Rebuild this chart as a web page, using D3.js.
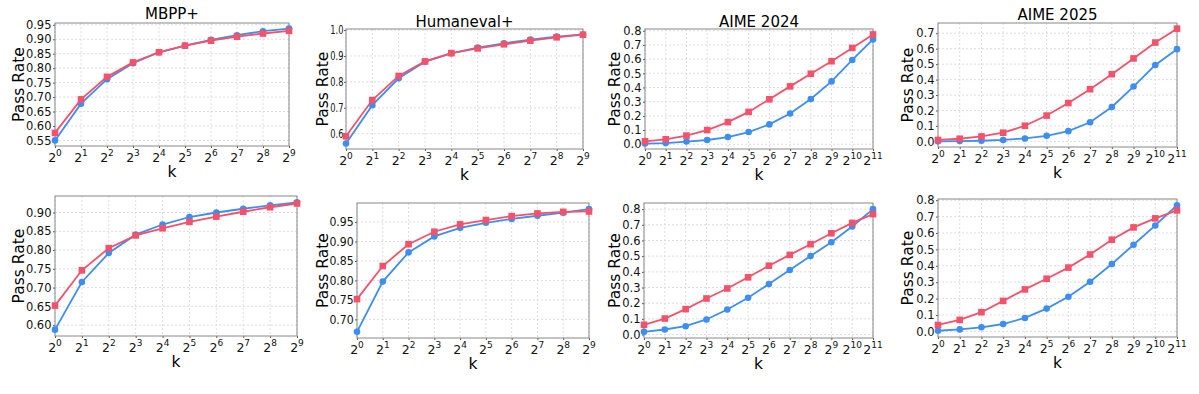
<!DOCTYPE html>
<html>
  <head>
    <style>
    body {
      font-family: "DejaVu Sans", sans-serif;
      margin: 0;
      background: #fff;
    }
    </style>
  </head>
  <body>
    <script src="https://d3js.org/d3.v7.min.js"></script>
    <script>
    var width = 1199, height = 394;

    // k = 2^e
    var expCode = [0, 1, 2, 3, 4, 5, 6, 7, 8, 9];
    var expMath = [0, 1, 2, 3, 4, 5, 6, 7, 8, 9, 10, 11];

    var titles = ["MBPP+", "Humaneval+", "AIME 2024", "AIME 2025"];

    // top row
    var mbppBlueTop  = [0.550, 0.677, 0.762, 0.817, 0.855, 0.878, 0.898, 0.914, 0.928, 0.937];
    var mbppRedTop   = [0.576, 0.692, 0.770, 0.820, 0.855, 0.878, 0.895, 0.909, 0.920, 0.929];
    var humanBlueTop = [0.562, 0.710, 0.814, 0.878, 0.910, 0.932, 0.949, 0.963, 0.975, 0.983];
    var humanRedTop  = [0.590, 0.730, 0.823, 0.879, 0.911, 0.929, 0.945, 0.959, 0.972, 0.982];
    var aime24BlueTop = [0.005, 0.008, 0.019, 0.030, 0.051, 0.086, 0.140, 0.217, 0.319, 0.443, 0.594, 0.739];
    var aime24RedTop  = [0.021, 0.035, 0.061, 0.100, 0.156, 0.228, 0.317, 0.408, 0.497, 0.585, 0.679, 0.774];
    var aime25BlueTop = [0.000, 0.002, 0.004, 0.009, 0.019, 0.036, 0.066, 0.124, 0.223, 0.355, 0.495, 0.597];
    var aime25RedTop  = [0.009, 0.017, 0.032, 0.056, 0.101, 0.167, 0.248, 0.338, 0.435, 0.537, 0.640, 0.730];

    // bottom row
    var mbppBlueBot  = [0.588, 0.715, 0.792, 0.841, 0.868, 0.888, 0.900, 0.910, 0.919, 0.927];
    var mbppRedBot   = [0.652, 0.746, 0.805, 0.839, 0.858, 0.875, 0.889, 0.902, 0.914, 0.924];
    var humanBlueBot = [0.668, 0.797, 0.872, 0.913, 0.935, 0.948, 0.958, 0.966, 0.974, 0.983];
    var humanRedBot  = [0.752, 0.837, 0.893, 0.925, 0.944, 0.955, 0.965, 0.972, 0.976, 0.977];
    var aime24BlueBot = [0.017, 0.032, 0.053, 0.096, 0.160, 0.235, 0.322, 0.412, 0.501, 0.589, 0.689, 0.800];
    var aime24RedBot  = [0.062, 0.102, 0.162, 0.230, 0.294, 0.365, 0.439, 0.508, 0.576, 0.646, 0.712, 0.768];
    var aime25BlueBot = [0.004, 0.012, 0.025, 0.045, 0.082, 0.139, 0.211, 0.303, 0.411, 0.528, 0.646, 0.769];
    var aime25RedBot  = [0.039, 0.070, 0.117, 0.186, 0.256, 0.321, 0.389, 0.469, 0.559, 0.634, 0.689, 0.738];

    // y tick labels per panel
    var ticksMbppTop  = ["0.55", "0.60", "0.65", "0.70", "0.75", "0.80", "0.85", "0.90", "0.95"];
    var ticksHumanTop = ["0.6", "0.7", "0.8", "0.9", "1.0"];
    var ticksAime24Top = ["0.0", "0.1", "0.2", "0.3", "0.4", "0.5", "0.6", "0.7", "0.8"];
    var ticksAime25Top = ["0.0", "0.1", "0.2", "0.3", "0.4", "0.5", "0.6", "0.7"];
    var ticksMbppBot  = ["0.60", "0.65", "0.70", "0.75", "0.80", "0.85", "0.90"];
    var ticksHumanBot = ["0.70", "0.75", "0.80", "0.85", "0.90", "0.95"];
    var ticksAime24Bot = ["0.0", "0.1", "0.2", "0.3", "0.4", "0.5", "0.6", "0.7", "0.8"];
    var ticksAime25Bot = ["0.0", "0.1", "0.2", "0.3", "0.4", "0.5", "0.6", "0.7", "0.8"];

    var blue = "#3d8ef2", red = "#f4516a";

    // sq = horizontal squeeze of the y tick labels (that panel looks narrower in the original)
    var panels = [
      {title: titles[0], exps: expCode, blue: mbppBlueTop,   red: mbppRedTop,   ticks: ticksMbppTop,   box: [55, 289, 23, 146],  ylab: 19,  ttl: 19, sq: 1},
      {title: titles[1], exps: expCode, blue: humanBlueTop,  red: humanRedTop,  ticks: ticksHumanTop,  box: [346, 583, 29, 149], ylab: 323, ttl: 27, sq: 0.72},
      {title: titles[2], exps: expMath, blue: aime24BlueTop, red: aime24RedTop, ticks: ticksAime24Top, box: [645, 873, 29, 149], ylab: 615, ttl: 27, sq: 1},
      {title: titles[3], exps: expMath, blue: aime25BlueTop, red: aime25RedTop, ticks: ticksAime25Top, box: [938, 1177, 23, 147], ylab: 908, ttl: 20, sq: 1},
      {title: null, exps: expCode, blue: mbppBlueBot,   red: mbppRedBot,   ticks: ticksMbppBot,   box: [55, 297, 196, 336],  ylab: 19,  sq: 1},
      {title: null, exps: expCode, blue: humanBlueBot,  red: humanRedBot,  ticks: ticksHumanBot,  box: [357, 589, 203, 338], ylab: 323, sq: 0.95},
      {title: null, exps: expMath, blue: aime24BlueBot, red: aime24RedBot, ticks: ticksAime24Bot, box: [644, 873, 203, 338], ylab: 615, sq: 1},
      {title: null, exps: expMath, blue: aime25BlueBot, red: aime25RedBot, ticks: ticksAime25Bot, box: [938, 1177, 199, 337], ylab: 908, sq: 1}
    ];

    var svg = d3.select("body").append("svg")
        .attr("width", width)
        .attr("height", height)
        .style("font-family", "'DejaVu Sans', sans-serif");

    panels.forEach(drawPanel);

    function drawPanel(p){
      var l = p.box[0], r = p.box[1], t = p.box[2], b = p.box[3];
      var all = p.blue.concat(p.red);
      var lo = d3.min(all), hi = d3.max(all), m = (hi - lo) * 0.05;

      var x = d3.scaleLinear()
          .domain([p.exps[0], p.exps[p.exps.length - 1]])
          .range([l, r]);
      var y = d3.scaleLinear()
          .domain([lo - m, hi + m])
          .range([b, t]);

      var g = svg.append("g");
      var tickVals = p.ticks.map(Number);

      // grid
      g.append("g").selectAll("line")
          .data(p.exps)
        .enter().append("line")
          .attr("x1", function(d){ return x(d); })
          .attr("x2", function(d){ return x(d); })
          .attr("y1", t).attr("y2", b)
          .attr("stroke", "#d4d4d4")
          .attr("stroke-width", 0.8)
          .attr("stroke-dasharray", "2,2");
      g.append("g").selectAll("line")
          .data(tickVals)
        .enter().append("line")
          .attr("y1", function(d){ return y(d); })
          .attr("y2", function(d){ return y(d); })
          .attr("x1", l).attr("x2", r)
          .attr("stroke", "#d4d4d4")
          .attr("stroke-width", 0.8)
          .attr("stroke-dasharray", "2,2");

      // y axis
      var yAxis = d3.axisLeft(y)
          .tickValues(tickVals)
          .tickSize(2)
          .tickPadding(1.5)
          .tickFormat(function(d, i){ return p.ticks[i]; });
      var ya = g.append("g")
          .attr("transform", "translate(" + l + ",0)")
          .call(yAxis);
      ya.select(".domain").remove();
      ya.selectAll("line").attr("stroke", "#555");
      ya.selectAll("text")
          .style("font-size", "11.5px")
          .style("font-family", "'DejaVu Sans', sans-serif")
          .attr("transform", "scale(" + p.sq + ",1)")
          .attr("fill", "#111");

      // x axis with 2^k labels
      var xAxis = d3.axisBottom(x)
          .tickValues(p.exps)
          .tickSize(2)
          .tickFormat("");
      var xa = g.append("g")
          .attr("transform", "translate(0," + b + ")")
          .call(xAxis);
      xa.select(".domain").remove();
      xa.selectAll("line").attr("stroke", "#555");

      var lab = g.append("g").selectAll("text")
          .data(p.exps)
        .enter().append("text")
          .attr("x", function(d){ return x(d); })
          .attr("y", b + 16)
          .attr("text-anchor", "middle")
          .attr("fill", "#111")
          .style("font-size", "12.5px");
      lab.append("tspan").text("2");
      lab.append("tspan")
          .attr("dy", -6)
          .style("font-size", "9px")
          .text(function(d){ return d; });

      // frame
      g.append("rect")
          .attr("x", l).attr("y", t)
          .attr("width", r - l).attr("height", b - t)
          .attr("fill", "none")
          .attr("stroke", "#888")
          .attr("stroke-width", 1);

      // labels
      g.append("text")
          .attr("x", (l + r) / 2)
          .attr("y", b + 31)
          .attr("text-anchor", "middle")
          .style("font-size", "15.5px")
          .text("k");
      g.append("text")
          .attr("transform", "translate(" + (p.ylab + 5) + "," + ((t + b) / 2) + ") rotate(-90)")
          .attr("text-anchor", "middle")
          .style("font-size", "15.5px")
          .text("Pass Rate");
      if (p.title) {
        g.append("text")
            .attr("x", (l + r) / 2)
            .attr("y", p.ttl)
            .attr("text-anchor", "middle")
            .style("font-size", "15px")
            .text(p.title);
      }

      // series
      var line = d3.line()
          .x(function(d, i){ return x(p.exps[i]); })
          .y(function(d){ return y(d); });

      g.append("path")
          .datum(p.blue)
          .attr("d", line)
          .attr("fill", "none")
          .attr("stroke", blue)
          .attr("stroke-width", 1.8);
      g.append("g").selectAll("circle")
          .data(p.blue)
        .enter().append("circle")
          .attr("cx", function(d, i){ return x(p.exps[i]); })
          .attr("cy", function(d){ return y(d); })
          .attr("r", 3.3)
          .attr("fill", blue);

      g.append("path")
          .datum(p.red)
          .attr("d", line)
          .attr("fill", "none")
          .attr("stroke", red)
          .attr("stroke-width", 1.8);
      g.append("g").selectAll("rect")
          .data(p.red)
        .enter().append("rect")
          .attr("x", function(d, i){ return x(p.exps[i]) - 3.3; })
          .attr("y", function(d){ return y(d) - 3.3; })
          .attr("width", 6.6)
          .attr("height", 6.6)
          .attr("fill", red);
    }
    </script>
  </body>
</html>
